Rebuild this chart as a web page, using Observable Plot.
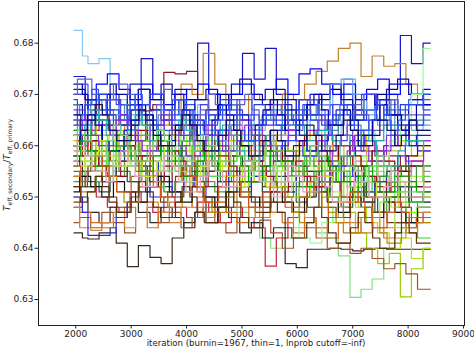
<!DOCTYPE html>
<html><head><meta charset="utf-8">
<script src="https://cdn.jsdelivr.net/npm/d3@7"></script>
<script src="https://cdn.jsdelivr.net/npm/@observablehq/plot@0.6"></script>
<style>body{margin:0;background:#fff}svg{display:block}</style>
</head><body><div id="chart"></div>
<script>
// Iteration grids (step change points) used by the walkers
const gridA = [1967,2170,2370,2570,2780,2980,3180,3390,3590,3790,4000,4200,4400,4610,4810,5010,5220,5420,5620,5830,6030,6230,6440,6640,6840,7050,7250,7450,7660,7860,8060,8270];
const gridB = [1967,2070,2270,2470,2680,2880,3080,3290,3490,3690,3900,4100,4300,4510,4710,4910,5120,5320,5520,5730,5930,6130,6340,6540,6740,6950,7150,7350,7560,7760,7960,8170];
const gridC = [1967,2120,2220,2420,2620,2730,2930,3130,3340,3540,3740,3950,4150,4350,4560,4760,4960,5170,5370,5570,5780,5980,6180,6390,6590,6790,7000,7200,7400,7610,7810,8010];
const gridD = [1967,2090,2210,2350,2480,2600,2740,2870,3000,3140,3260,3400,3530,3660,3800,3920,4060,4190,4320,4460,4580,4720,4850,4980,5120,5240,5380,5510,5640,5780,5900,6040,6170,6300,6440,6560,6700,6830,6960,7100,7220,7360,7490,7620,7760,7880,8020,8150];
const gridE = [1967,2030,2160,2290,2410,2550,2680,2810,2940,3070,3200,3330,3460,3600,3730,3860,3990,4120,4250,4390,4520,4650,4780,4910,5050,5180,5310,5440,5570,5710,5840,5970,6100,6240,6370,6500,6630,6770,6900,7030,7160,7290,7430,7560,7690,7820,7950,8280];
const lastIteration = 8400;
const xTicks = [2000,3000,4000,5000,6000,7000,8000,9000];
const yTicks = [0.63,0.64,0.65,0.66,0.67,0.68];

// Walker values in units of 1e-4 (T_eff ratio)
const w01 = [6825,6775,6760,6770,6720,6690,6650,6620,6640,6600,6630,6650,6620,6600,6630,6610,6590,6620,6640,6610,6590,6620,6600,6630,6650,6620,6600,6630,6610,6640,6620,6600];
const w02 = [6735,6690,6660,6700,6680,6720,6770,6690,6650,6700,6710,6800,6700,6670,6720,6780,6730,6790,6700,6650,6690,6700,6680,6640,6700,6660,6700,6690,6720,6815,6760,6800];
const w03 = [6600,6630,6580,6620,6600,6640,6660,6610,6640,6670,6720,6700,6780,6720,6680,6650,6700,6690,6660,6700,6690,6720,6745,6765,6790,6800,6735,6775,6755,6760,6720,6680];
const w04 = [6700,6680,6650,6690,6640,6670,6668,6680,6743,6740,6745,6690,6650,6620,6640,6600,6620,6580,6610,6590,6570,6600,6620,6580,6560,6600,6590,6560,6580,6550,6570,6560];
const w05 = [6430,6420,6418,6430,6440,6410,6364,6405,6382,6370,6420,6450,6470,6500,6480,6520,6500,6530,6510,6490,6520,6500,6480,6510,6530,6500,6520,6490,6510,6530,6500,6520];
const w06 = [6580,6560,6600,6570,6550,6590,6560,6540,6560,6530,6550,6520,6500,6480,6500,6470,6450,6420,6400,6420,6440,6460,6430,6420,6385,6304,6320,6340,6400,6430,6460,6480];
const w07 = [6540,6520,6500,6480,6470,6510,6490,6470,6500,6480,6460,6490,6470,6450,6480,6460,6440,6365,6420,6460,6500,6520,6540,6560,6530,6550,6570,6540,6520,6480,6450,6470];
const w08 = [6480,6500,6470,6450,6480,6460,6490,6470,6450,6480,6460,6440,6470,6450,6480,6460,6430,6450,6420,6440,6370,6362,6398,6398,6400,6398,6395,6398,6400,6398,6398,6398];
const w09 = [6620,6590,6600,6570,6600,6580,6560,6590,6570,6550,6580,6560,6540,6570,6550,6530,6560,6540,6520,6500,6530,6510,6480,6450,6470,6430,6400,6370,6390,6305,6360,6400];
const w10 = [6450,6460,6440,6470,6450,6430,6460,6480,6450,6470,6440,6460,6480,6450,6430,6460,6440,6455,6430,6400,6420,6440,6420,6400,6410,6390,6400,6380,6360,6370,6350,6320];
const w11 = [6640,6660,6630,6650,6680,6660,6640,6670,6650,6630,6660,6680,6650,6620,6640,6660,6630,6650,6670,6640,6620,6650,6680,6720,6730,6690,6660,6640,6670,6650,6630,6660];
const w12 = [6560,6580,6550,6530,6570,6590,6560,6540,6570,6600,6580,6550,6570,6590,6620,6600,6570,6590,6610,6580,6560,6590,6620,6600,6580,6610,6590,6570,6600,6630,6610,6590];
const w13 = [6680,6650,6690,6700,6660,6640,6680,6710,6670,6650,6690,6660,6640,6670,6700,6680,6650,6630,6660,6690,6670,6640,6660,6690,6710,6680,6650,6670,6700,6660,6640,6680];
const w14 = [6550,6520,6540,6570,6550,6530,6560,6540,6510,6530,6560,6580,6550,6530,6550,6570,6540,6520,6550,6530,6500,6520,6550,6570,6540,6520,6550,6530,6510,6540,6560,6530];
const w15 = [6600,6620,6590,6570,6600,6620,6640,6610,6590,6620,6600,6580,6610,6590,6570,6600,6620,6590,6570,6550,6580,6600,6570,6550,6530,6560,6580,6550,6530,6500,6470,6450];
const w16 = [6620,6600,6630,6650,6620,6600,6630,6610,6590,6620,6640,6610,6590,6620,6600,6580,6610,6630,6600,6620,6640,6610,6590,6570,6600,6620,6590,6610,6580,6600,6630,6610];
const w17 = [6580,6610,6590,6560,6590,6610,6580,6600,6570,6590,6560,6540,6570,6600,6580,6550,6570,6590,6560,6540,6560,6580,6550,6530,6560,6540,6500,6470,6500,6520,6490,6510];
const w18 = [6500,6470,6450,6440,6460,6480,6460,6440,6470,6490,6510,6480,6460,6490,6470,6450,6480,6500,6470,6450,6430,6460,6440,6420,6450,6430,6460,6440,6420,6450,6430,6460];
const w19 = [6700,6720,6690,6670,6700,6680,6650,6680,6700,6670,6650,6680,6660,6640,6670,6690,6660,6640,6660,6680,6650,6670,6690,6660,6680,6700,6670,6650,6680,6700,6670,6690];
const w20 = [6590,6610,6580,6600,6620,6590,6570,6600,6580,6550,6580,6560,6590,6610,6640,6620,6590,6610,6580,6560,6590,6570,6600,6580,6550,6570,6600,6580,6560,6540,6570,6550];
const w21 = [6530,6550,6580,6560,6540,6570,6550,6520,6550,6570,6540,6560,6530,6510,6540,6560,6530,6550,6520,6500,6530,6550,6520,6500,6480,6510,6490,6470,6500,6480,6460,6490];
const w22 = [6720,6700,6670,6690,6720,6700,6680,6710,6690,6720,6700,6670,6690,6710,6680,6700,6730,6700,6680,6710,6690,6660,6680,6700,6720,6690,6670,6700,6680,6710,6730,6700];
const w23 = [6610,6640,6620,6590,6610,6630,6600,6620,6640,6610,6590,6620,6600,6580,6610,6590,6570,6600,6620,6590,6610,6630,6600,6580,6600,6620,6590,6570,6590,6610,6580,6600];
const w24 = [6630,6650,6620,6640,6610,6630,6660,6640,6610,6630,6650,6620,6600,6630,6650,6620,6640,6610,6630,6660,6640,6610,6630,6650,6620,6600,6630,6610,6640,6620,6600,6630];
const w25 = [6570,6540,6560,6590,6570,6540,6560,6580,6550,6530,6560,6540,6570,6550,6520,6540,6560,6530,6550,6570,6540,6520,6550,6530,6560,6580,6550,6530,6500,6530,6550,6520];
const w26 = [6640,6620,6590,6610,6630,6600,6620,6590,6570,6600,6620,6600,6580,6610,6590,6620,6600,6580,6550,6570,6590,6560,6540,6570,6550,6580,6560,6530,6550,6520,6540,6560];
const w27 = [6680,6660,6690,6670,6650,6680,6660,6630,6660,6640,6670,6650,6630,6660,6680,6650,6630,6650,6670,6640,6660,6680,6650,6630,6660,6640,6620,6650,6670,6640,6620,6650];
const w28 = [6520,6550,6530,6510,6540,6560,6530,6510,6540,6520,6500,6530,6550,6520,6500,6530,6510,6490,6520,6540,6510,6490,6510,6530,6500,6480,6510,6490,6470,6500,6520,6490];
const w29 = [6710,6690,6720,6740,6710,6690,6720,6700,6680,6710,6690,6720,6700,6680,6700,6720,6690,6710,6730,6700,6740,6750,6720,6700,6720,6690,6710,6730,6700,6720,6690,6710];
const w30 = [6600,6630,6610,6590,6620,6600,6570,6600,6620,6590,6570,6600,6580,6560,6590,6610,6580,6560,6590,6570,6550,6580,6600,6570,6550,6520,6540,6510,6490,6470,6440,6420];
const w31 = [6600,6580,6610,6590,6570,6600,6620,6590,6570,6600,6580,6560,6590,6570,6550,6580,6600,6570,6550,6570,6590,6560,6540,6570,6550,6580,6560,6540,6520,6550,6530,6560];
const w32 = [6650,6680,6700,6670,6650,6680,6660,6640,6670,6690,6660,6640,6660,6690,6670,6650,6680,6660,6640,6670,6690,6660,6640,6660,6680,6650,6670,6690,6660,6680,6700,6670];
const w33 = [6480,6440,6435,6450,6470,6440,6460,6490,6470,6450,6480,6500,6470,6490,6510,6480,6460,6490,6470,6450,6480,6460,6440,6460,6480,6450,6430,6460,6440,6420,6450,6470];
const w34 = [6500,6470,6425,6425,6430,6460,6490,6520,6500,6530,6510,6540,6520,6500,6530,6550,6520,6540,6560,6530,6510,6540,6520,6550,6530,6560,6540,6510,6530,6550,6580,6560];
const w35 = [6560,6580,6550,6570,6590,6560,6540,6570,6550,6580,6560,6540,6570,6590,6560,6540,6560,6580,6550,6530,6420,6410,6450,6480,6500,6530,6560,6580,6610,6640,6700,6790];
const w36 = [6620,6590,6610,6640,6620,6600,6630,6610,6590,6620,6640,6610,6590,6610,6630,6600,6580,6610,6590,6570,6600,6620,6590,6570,6600,6580,6560,6590,6570,6550,6580,6600];
const w37 = [6660,6640,6670,6650,6630,6660,6640,6620,6650,6670,6640,6620,6650,6630,6610,6640,6660,6630,6650,6670,6640,6620,6650,6680,6720,6730,6700,6670,6650,6680,6660,6640];
const w38 = [6540,6570,6590,6560,6580,6600,6570,6550,6580,6560,6540,6570,6590,6560,6540,6560,6580,6550,6530,6560,6540,6520,6550,6530,6500,6480,6450,6430,6400,6420,6380,6400];
const w39 = [6510,6540,6520,6500,6530,6510,6490,6520,6540,6510,6490,6520,6500,6480,6510,6530,6500,6480,6510,6490,6470,6500,6520,6490,6470,6500,6480,6460,6490,6470,6450,6480];
const w40 = [6650,6630,6660,6640,6620,6650,6630,6610,6640,6660,6630,6610,6640,6620,6600,6630,6650,6620,6640,6660,6630,6610,6630,6650,6620,6600,6630,6610,6590,6620,6640,6610];
const w41 = [6620,6620,6650,6650,6610,6590,6590,6630,6670,6670,6640,6600,6600,6600,6580,6610,6650,6650,6620,6590,6630,6660,6660,6660,6610,6570,6600,6630,6630,6680,6650,6620,6590,6590,6610,6640,6670,6670,6630,6600,6620,6650,6690,6690,6660,6630,6600,6620];
const w42 = [6560,6590,6590,6590,6570,6540,6580,6600,6600,6570,6550,6520,6520,6550,6580,6610,6610,6590,6560,6540,6540,6540,6570,6600,6580,6550,6550,6530,6560,6590,6590,6560,6540,6510,6510,6540,6570,6550,6520,6520,6500,6530,6560,6540,6510,6490,6490,6540];
const w43 = [6490,6520,6550,6550,6530,6500,6480,6480,6510,6540,6520,6520,6490,6510,6540,6560,6560,6530,6500,6480,6480,6480,6510,6530,6500,6470,6490,6520,6520,6490,6470,6470,6500,6530,6510,6480,6460,6460,6490,6520,6500,6470,6470,6450,6450,6480,6500,6500];
const w44 = [6670,6640,6640,6660,6690,6690,6690,6660,6630,6650,6680,6700,6700,6670,6640,6620,6620,6650,6680,6660,6630,6630,6660,6690,6690,6660,6640,6670,6650,6650,6620,6650,6680,6680,6660,6630,6610,6610,6640,6670,6700,6700,6680,6650,6620,6620,6640,6660];
const w45 = [6600,6570,6570,6590,6620,6590,6560,6560,6590,6610,6610,6580,6550,6570,6600,6600,6570,6540,6560,6560,6590,6570,6540,6520,6550,6580,6580,6560,6530,6510,6540,6540,6570,6550,6520,6500,6500,6530,6510,6480,6460,6460,6490,6470,6440,6440,6460,6480];
const w46 = [6580,6610,6610,6590,6560,6540,6540,6570,6600,6580,6550,6530,6530,6560,6590,6570,6540,6520,6520,6550,6580,6580,6560,6530,6550,6580,6560,6540,6510,6510,6540,6570,6540,6520,6520,6550,6530,6500,6500,6530,6560,6540,6510,6510,6530,6560,6560,6530];
const w47 = [6630,6600,6620,6650,6650,6630,6600,6580,6580,6610,6640,6620,6590,6570,6570,6600,6630,6610,6580,6560,6590,6590,6620,6600,6570,6550,6550,6580,6600,6570,6550,6550,6580,6560,6530,6530,6560,6580,6560,6530,6510,6510,6540,6560,6540,6540,6520,6560];
const w48 = [6700,6730,6730,6700,6670,6690,6720,6720,6700,6670,6650,6650,6680,6710,6690,6660,6640,6640,6670,6700,6680,6650,6650,6680,6700,6670,6650,6650,6680,6660,6630,6630,6660,6690,6670,6640,6620,6620,6650,6680,6660,6630,6630,6660,6690,6660,6660,6680];
const w49 = [6540,6510,6510,6530,6560,6540,6510,6490,6490,6520,6550,6530,6500,6480,6480,6510,6540,6520,6490,6470,6470,6500,6530,6510,6480,6460,6460,6490,6520,6500,6470,6450,6450,6480,6500,6470,6450,6430,6430,6460,6480,6460,6430,6410,6410,6440,6460,6450];
const w50 = [6650,6620,6640,6670,6650,6620,6600,6600,6630,6660,6640,6610,6590,6590,6620,6650,6630,6600,6580,6580,6610,6640,6620,6590,6570,6570,6600,6620,6600,6600,6630,6610,6580,6580,6600,6630,6610,6580,6580,6600,6630,6610,6580,6560,6560,6590,6610,6590];
const w51 = [6600,6630,6660,6640,6610,6590,6590,6620,6650,6680,6660,6630,6610,6610,6640,6670,6640,6620,6620,6650,6680,6660,6630,6610,6610,6640,6670,6690,6660,6630,6630,6650,6680,6700,6670,6640,6640,6670,6650,6620,6620,6650,6680,6660,6660,6630,6650,6680];
const w52 = [6620,6590,6560,6580,6610,6580,6560,6560,6590,6570,6540,6540,6570,6600,6580,6550,6530,6530,6560,6590,6570,6540,6540,6520,6550,6570,6540,6520,6520,6550,6530,6500,6500,6530,6560,6540,6510,6490,6490,6520,6550,6530,6500,6500,6480,6510,6530,6500];
const w53 = [6520,6490,6510,6540,6520,6490,6470,6470,6500,6530,6510,6480,6460,6460,6490,6520,6500,6470,6450,6450,6480,6510,6490,6460,6440,6440,6470,6490,6470,6440,6420,6420,6450,6480,6460,6430,6410,6410,6440,6470,6450,6420,6400,6400,6430,6450,6430,6410];
const w54 = [6640,6670,6650,6620,6600,6600,6630,6660,6640,6610,6590,6590,6620,6650,6630,6600,6580,6580,6610,6640,6620,6590,6590,6610,6640,6620,6600,6600,6570,6600,6630,6610,6580,6580,6610,6590,6560,6560,6590,6620,6600,6570,6570,6590,6620,6600,6570,6590];
const w55 = [6580,6610,6590,6560,6560,6590,6620,6600,6570,6550,6550,6580,6610,6590,6560,6540,6540,6570,6600,6570,6550,6550,6580,6560,6530,6530,6560,6590,6570,6570,6540,6520,6520,6550,6580,6560,6530,6530,6510,6540,6560,6530,6510,6510,6540,6560,6530,6510];
const w56 = [6690,6660,6680,6710,6690,6660,6640,6640,6670,6700,6680,6650,6630,6630,6660,6690,6670,6640,6620,6620,6650,6680,6660,6630,6610,6610,6640,6660,6640,6610,6610,6640,6670,6650,6620,6620,6650,6680,6660,6630,6630,6650,6680,6660,6630,6650,6680,6700];
const w57 = [6560,6530,6550,6580,6560,6530,6510,6510,6540,6570,6550,6520,6500,6500,6530,6560,6540,6510,6490,6490,6520,6550,6530,6500,6480,6480,6510,6530,6510,6480,6480,6500,6530,6510,6480,6460,6460,6490,6510,6490,6460,6440,6440,6470,6490,6470,6440,6460];
const w58 = [6600,6630,6610,6580,6580,6610,6640,6620,6590,6570,6570,6600,6630,6610,6580,6560,6560,6590,6620,6600,6570,6570,6600,6580,6550,6550,6580,6610,6590,6560,6540,6540,6570,6600,6580,6550,6550,6580,6560,6530,6530,6560,6580,6560,6530,6510,6510,6560];
const w59 = [6660,6630,6650,6680,6660,6630,6610,6610,6640,6670,6650,6620,6600,6600,6630,6660,6640,6610,6590,6590,6620,6650,6630,6600,6580,6580,6610,6630,6610,6580,6580,6610,6640,6620,6590,6590,6620,6650,6630,6600,6600,6620,6650,6630,6600,6620,6650,6630];
const w60 = [6570,6600,6580,6550,6550,6530,6560,6590,6570,6540,6520,6520,6550,6580,6560,6530,6510,6510,6540,6570,6550,6520,6520,6540,6570,6550,6530,6530,6500,6530,6560,6540,6510,6510,6540,6520,6490,6490,6520,6550,6530,6500,6500,6520,6550,6530,6500,6520];

const walkerValues = [w01,w02,w03,w04,w05,w06,w07,w08,w09,w10,w11,w12,w13,w14,w15,w16,w17,w18,w19,w20,
  w21,w22,w23,w24,w25,w26,w27,w28,w29,w30,w31,w32,w33,w34,w35,w36,w37,w38,w39,w40,
  w41,w42,w43,w44,w45,w46,w47,w48,w49,w50,w51,w52,w53,w54,w55,w56,w57,w58,w59,w60];
const walkerGrids = ["C","A","B","A","C","B","A","C","A","B","A","B","C","A","B","C","A","B","C","A",
  "B","C","A","B","C","A","B","C","A","B","C","A","B","C","A","B","C","A","B","C",
  "D","E","D","E","D","E","D","E","D","E","D","E","D","E","D","E","D","E","D","E"];
const walkerColors = ["#86c6ee","#1414c8","#c08030","#8b1a2b","#3a2a1a","#80e080","#c8203c","#2a2a2a","#9acd00","#a0522d",
  "#6cb4e4","#2020e0","#000080","#2e8b2e","#7cfc00","#7b2a8c","#1a5c1a","#d2691e","#3050ff","#e070b0",
  "#6b8e23","#0a0aa0","#d4c000","#20a0a0","#701020","#a0f040","#4682b4","#2f4f4f","#0000ff","#32cd32",
  "#b22222","#1f3fdf","#cd853f","#2a2ae0","#98fb98","#8b0000","#6495ed","#b0e020","#111111","#9030d0",
  "#1a1ad0","#5ad65a","#7a3b10","#4040ff","#9ae64a","#a01030","#3c8c3c","#6060c0","#b8860b","#20b2aa",
  "#0000b0","#c0e830","#5a2d0c","#8a2be2","#00a000","#2850f0","#d05020","#70d070","#101060","#e0a0c0"];

const grids = {A: gridA, B: gridB, C: gridC, D: gridD, E: gridE};

const lineMarks = walkerValues.map((vals, k) => {
  const g = grids[walkerGrids[k]];
  const pts = [];
  for (let i = 0; i < Math.min(vals.length, g.length); i++) pts.push({iter: g[i], value: vals[i] / 10000});
  pts.push({iter: lastIteration, value: pts[pts.length - 1].value});
  return Plot.line(pts, {x: "iter", y: "value", curve: "step-after", stroke: walkerColors[k], strokeWidth: 1.2});
});

const chart = Plot.plot({
  width: 474, height: 352,
  marginLeft: 38, marginRight: 10, marginTop: 1, marginBottom: 27,
  style: {fontFamily: "DejaVu Sans", fontSize: "9px", color: "#222", background: "#fff"},
  x: {domain: [1327, 9018]},
  y: {domain: [0.62493, 0.68813]},
  marks: [
    ...lineMarks,
    Plot.frame({stroke: "#222", strokeWidth: 1}),
    Plot.axisX({ticks: xTicks, tickFormat: d => String(d), tickSize: 3.5, tickPadding: 2, label: null}),
    Plot.axisY({ticks: yTicks, tickFormat: d3.format(".2f"), tickSize: 3.5, tickPadding: 1.5, label: null})
  ]
});

const svg = d3.select(chart);
svg.append("text")
  .attr("x", 256).attr("y", 346)
  .attr("text-anchor", "middle")
  .attr("font-family", "DejaVu Sans").attr("font-size", "8.6px").attr("fill", "#222")
  .text("iteration (burnin=1967, thin=1, lnprob cutoff=-inf)");
const yl = svg.append("text")
  .attr("transform", "translate(10,165) rotate(-90)")
  .attr("text-anchor", "middle")
  .attr("font-family", "DejaVu Sans").attr("font-size", "9px").attr("fill", "#222");
yl.append("tspan").attr("font-style", "italic").text("T");
yl.append("tspan").attr("font-size", "6px").attr("dy", "2").text("eff, secondary");
yl.append("tspan").attr("dy", "-2").text("/");
yl.append("tspan").attr("font-style", "italic").text("T");
yl.append("tspan").attr("font-size", "6px").attr("dy", "2").text("eff, primary");

document.getElementById("chart").appendChild(chart);
</script>
</body></html>
